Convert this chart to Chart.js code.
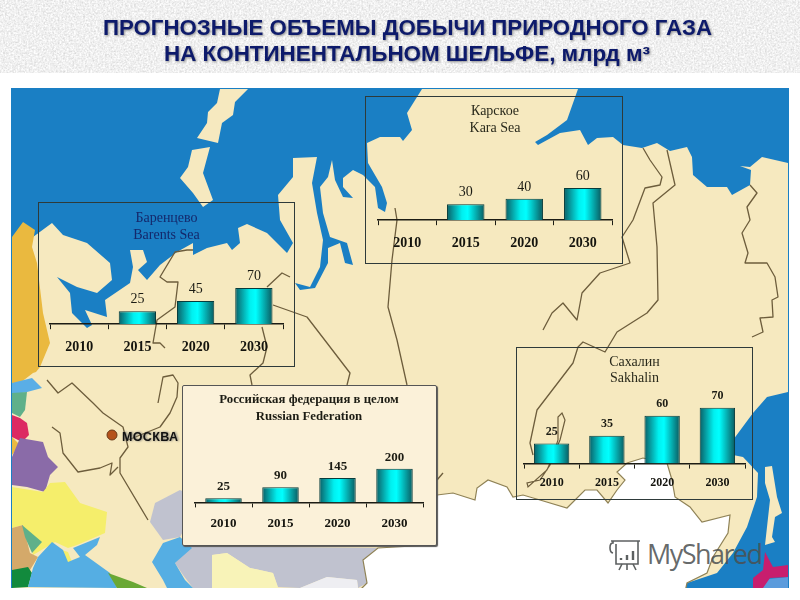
<!DOCTYPE html>
<html lang="ru">
<head>
<meta charset="utf-8">
<title>Прогнозные объемы добычи природного газа</title>
<script src="https://cdn.jsdelivr.net/npm/chart.js@4"></script>
<style>
    html, body { margin: 0; padding: 0; background: #fff; width: 800px; height: 600px; overflow: hidden; }
    #map { position: absolute; left: 0; top: 0; }
    .panel { position: absolute; box-sizing: border-box; }
    .panel canvas { position: absolute; left: 0; top: 0; }
    .outline { border: 1px solid #2e3a3a; }
    .solid { background: #fbf1d9; border: 1px solid #555; border-radius: 2px; box-shadow: 1px 1px 1px #555; }
    .heading { font: bold 21.5px "Liberation Sans", Arial, sans-serif; fill: #0d1a6b; filter: drop-shadow(1px 1px 1px #8a8a8a); }
    .border { fill: none; stroke: #6d5d3c; stroke-width: 1.3; stroke-linejoin: round; }
</style>
</head>
<body>
<svg id="map" width="800" height="600" xmlns="http://www.w3.org/2000/svg">
    <defs>
        <filter id="paper" x="0" y="0" width="100%" height="100%">
            <feTurbulence type="fractalNoise" baseFrequency="0.55" numOctaves="2" seed="4"/>
            <feColorMatrix type="matrix" values="0.5 0 0 0 0.62  0.5 0 0 0 0.62  0.5 0 0 0 0.62  0 0 0 0 1"/>
        </filter>
    </defs>
    <rect x="0" y="0" width="800" height="73" filter="url(#paper)"/>
    <text class="heading" x="103" y="35" textLength="609" lengthAdjust="spacingAndGlyphs">ПРОГНОЗНЫЕ ОБЪЕМЫ ДОБЫЧИ ПРИРОДНОГО ГАЗА</text>
    <text class="heading" x="164" y="60.5" textLength="486" lengthAdjust="spacingAndGlyphs">НА КОНТИНЕНТАЛЬНОМ ШЕЛЬФЕ, млрд м³</text>

    <!-- sea -->
    <rect x="11" y="88" width="778" height="500" fill="#1a7fc4"/>
    <!-- mainland -->
    <polygon fill="#f6e9bf" points="12,237 33,237 52,223 63,235 87,243 110,263 112,280 97,293 77,287 57,277 70,293 72,313 87,328 92,325 85,310 107,317 105,300 130,283 133,267 130,250 143,250 147,262 138,270 147,280 160,265 177,252 193,243 193,255 207,248 227,243 232,250 240,243 238,228 247,224 267,233 287,253 293,243 280,220 278,195 293,177 293,158 317,157 312,183 317,213 323,240 320,267 310,287 295,283 300,290 315,288 328,263 328,248 340,243 345,263 353,265 347,243 330,237 323,213 320,187 328,177 332,160 335,180 343,197 353,198 343,187 343,178 353,170 363,175 375,187 378,208 385,212 387,203 382,187 368,163 367,143 380,137 400,137 403,141 412,130 407,113 422,89 578,89 567,120 547,135 535,142 538,145 560,133 580,130 588,145 597,138 613,137 623,145 642,148 657,143 670,151 687,147 692,157 693,175 707,187 727,187 732,195 750,185 751,170 740,166 750,167 762,157 788,163 788,392 767,397 753,413 733,440 733,455 743,457 758,473 757,497 747,527 733,553 717,573 687,583 685,588 12,588"/>
    <!-- islands -->
    <polygon fill="#f6e9bf" points="220,89 248,89 235,102 233,115 222,123 218,143 197,138 207,123 208,112 217,103"/>
    <polygon fill="#f6e9bf" points="192,150 210,147 203,173 213,200 203,207 193,193 180,178 188,167"/>
    <polygon fill="#f6e9bf" points="765,467 772,466 777,497 782,513 775,517 772,537 775,542 765,545 767,527 770,500 765,483"/>
    <polygon fill="#5b9bdc" points="768,579 788,577 788,588 762,588"/>
    <polygon fill="#c81e6e" points="765,552 773,567 788,565 788,577 770,578 763,588 753,588 753,578 763,570"/>

    <!-- neighbours on the west and south -->
    <polygon fill="#eab93f" points="12,237 23,222 35,230 32,247 37,263 43,313 50,343 40,367 36,372 33,373 20,383 12,383"/>
    <polygon fill="#5aaee6" points="12,383 32,378 42,388 27,392 12,395"/>
    <polygon fill="#5fb08a" points="12,393 27,392 25,410 20,417 12,413"/>
    <polygon fill="#eab93f" points="12,437 20,445 12,455"/>
    <polygon fill="#dc2a62" points="12,415 20,418 27,423 29,435 22,442 12,437"/>
    <polygon fill="#8a6ba8" points="12,457 20,438 43,442 48,457 58,467 50,475 45,492 27,487 12,485"/>
    <polygon fill="#f5ee6b" points="12,487 43,492 50,483 65,482 80,503 107,512 105,533 77,545 68,548 55,542 33,555 30,543 23,525 12,528"/>
    <polygon fill="#d4a96a" points="12,528 23,525 30,553 38,557 30,570 12,570"/>
    <polygon fill="#5fb08a" points="22,525 42,542 32,553 25,537"/>
    <polygon fill="#128a3d" points="12,570 28,567 32,573 28,587 12,588"/>
    <polygon fill="#f5ee6b" points="55,548 68,552 72,562 64,564"/>
    <polygon fill="#55aee3" points="28,587 33,568 38,557 52,542 63,550 68,562 80,557 73,548 100,537 97,545 85,555 110,573 117,588"/>
    <polygon fill="#6aa835" points="108,573 133,582 147,588 117,588"/>
    <polygon fill="#c0c2cf" points="180,490 155,503 150,522 163,540 180,537 200,500"/>
    <polygon fill="#c0c2cf" points="192,546 175,563 183,575 193,588 212,588 212,555 227,553 250,568 273,573 278,587 300,588 327,577 357,580 358,588 367,583 363,560 378,548"/>
    <polygon fill="#55aee3" points="180,537 163,543 152,562 163,580 167,588 193,588 185,580 175,563 192,548"/>
    <polygon fill="#f8f3b8" points="212,555 227,553 250,568 273,573 278,588 212,588"/>
    <polygon fill="#eeeef2" points="300,588 327,577 357,580 358,588"/>
    <!-- china -->
    <polygon fill="#fff" stroke="#8f8256" stroke-width="1.2" points="437,495 453,493 475,500 477,488 488,480 507,487 513,497 523,495 540,500 567,508 585,490 597,490 608,503 617,490 625,480 617,472 627,463 643,458 667,463 672,480 675,497 690,507 702,522 730,515 728,533 713,557 707,573 687,583 685,592 358,592 367,583 363,560 378,548 430,545"/>
    <rect x="0" y="588" width="800" height="12" fill="#fff"/>

    <!-- borders and rivers -->
    <polyline class="border" points="193,250 187,250 175,252 160,277 167,282 178,282 175,307 157,320 153,343 160,343 165,348"/>
    <polyline class="border" points="267,287 282,273 290,277"/>
    <polyline class="border" points="273,305 307,317 327,343 350,373 347,385"/>
    <polyline class="border" points="262,327 267,347 263,363 250,375 252,385"/>
    <polyline class="border" points="395,208 397,220 392,260 388,307 397,340 407,385"/>
    <polyline class="border" points="643,148 650,160 662,177 660,185 645,188 633,220 622,237 630,263 600,273 582,293 577,320 563,303 552,313 543,330"/>
    <polyline class="border" points="667,150 675,185 653,203 657,247 658,300 647,313 617,332 605,352 583,342 578,347 573,363 560,380 537,410 530,443 533,455"/>
    <polyline class="border" points="750,185 757,193 747,207 750,220 742,233 748,253 745,263 767,263 775,277 778,297 772,300 773,317 760,318 763,332 752,337"/>
    <polyline class="border" points="47,380 58,393 72,383 93,403 103,413 123,427 128,447 120,458 120,473 148,520"/>
    <polyline class="border" points="52,427 60,433 63,453 78,472 100,468 112,463 110,475 118,467"/>
    <polyline class="border" points="158,403 163,377 173,375 178,383 177,397 170,413 160,427 128,440"/>
    <polyline class="border" points="437,480 443,473"/>
    <polygon fill="#f6e9bf" stroke="#6d5d3c" stroke-width="1.2" points="562,413 565,420 560,440 547,470 528,487 527,483 540,480 550,465 558,440 558,417"/>

    <!-- moscow -->
    <circle cx="112" cy="435" r="5" fill="#b5521b" stroke="#6b3a18"/>
    <text x="122" y="441" font-family="Liberation Sans" font-weight="bold" font-size="12.5" fill="#111" textLength="56" style="filter: drop-shadow(1px 0 1px #777)">МОСКВА</text>

    <!-- watermark -->
    <g fill="none" stroke="#4b4f50" stroke-width="1.6" opacity="0.9">
        <path d="M611 541 h29 M613 541 v2 c-4 0 -4 9 0 10 M616 544 v20 h22 v-23"/>
        <path d="M622 564 l-3 6 M627 564 v6 M633 564 l3 6"/>
        <path d="M621 560 v-2 M627 560 v-5 M633 560 v-9" stroke-width="2.4"/>
    </g>
    <text x="647" y="564" font-family="Open Sans" font-size="27" fill="#4b4f50" fill-opacity="0.85" textLength="116">MyShared</text>
</svg>

<div class="panel outline" style="left:38px;top:202px;width:257px;height:165px"><canvas id="barentsChart"></canvas></div>
<div class="panel outline" style="left:365px;top:96px;width:258px;height:168px"><canvas id="karaChart"></canvas></div>
<div class="panel solid" style="left:182px;top:385px;width:255px;height:161px"><canvas id="russiaChart"></canvas></div>
<div class="panel outline" style="left:516px;top:347px;width:237px;height:153px"><canvas id="sakhalinChart"></canvas></div>

<script>
const years = ['2010', '2015', '2020', '2030'];

const barentsValues = [null, 25, 45, 70];
const karaValues = [null, 30, 40, 60];
const russiaValues = [25, 90, 145, 200];
const sakhalinValues = [25, 35, 60, 70];

const barentsTitle = ['Баренцево', 'Barents Sea'];
const karaTitle = ['Карское', 'Kara Sea'];
const russiaTitle = ['Российская федерация в целом', 'Russian Federation'];
const sakhalinTitle = ['Сахалин', 'Sakhalin'];

const barFraction = 0.64;
const serif = '"Liberation Serif", "Times New Roman", serif';

// value over each bar, the 2010 gaps just get skipped
const valueLabels = {
    id: 'valueLabels',
    afterDatasetsDraw(chart) {
        const c = chart.ctx;
        const values = chart.data.datasets[0].data;
        c.save();
        c.font = `${chart.options.valueWeight} ${chart.options.valueFontSize}px ${serif}`;
        c.fillStyle = '#1c1c14';
        c.textAlign = 'center';
        c.textBaseline = 'middle';
        chart.getDatasetMeta(0).data.forEach((bar, i) => {
            if (values[i] !== null) {
                c.fillText(String(values[i]), bar.x, bar.y - 11.5);
            }
        });
        c.restore();
    }
};

// dark edges, cyan in the middle of every bar
function barFill(context) {
    const chart = context.chart;
    const xScale = chart.scales.x;
    if (!xScale || !chart.chartArea) {
        return '#00c8c8';
    }
    const center = xScale.getPixelForValue(context.dataIndex);
    const half = xScale.width / years.length * barFraction / 2;
    const gradient = chart.ctx.createLinearGradient(center - half, 0, center + half, 0);
    gradient.addColorStop(0, '#0a5f66');
    gradient.addColorStop(0.4, '#00f0f0');
    gradient.addColorStop(0.55, '#00ffff');
    gradient.addColorStop(1, '#0a5a5f');
    return gradient;
}

function createChart(id, values, titleLines, settings) {
    const canvas = document.getElementById(id);
    canvas.width = settings.width;
    canvas.height = settings.height;
    return new Chart(canvas.getContext('2d'), {
        type: 'bar',
        data: {
            labels: years,
            datasets: [{
                data: values,
                backgroundColor: barFill,
                borderColor: '#083c3c',
                borderWidth: 1,
                barPercentage: barFraction,
                categoryPercentage: 1
            }]
        },
        options: {
            responsive: false,
            animation: false,
            devicePixelRatio: 1,
            valueFontSize: settings.valueFont,
            valueWeight: settings.valueWeight,
            layout: {
                padding: { left: settings.left, right: settings.right, top: 0, bottom: settings.bottom }
            },
            plugins: {
                legend: { display: false },
                tooltip: { enabled: false },
                title: {
                    display: true,
                    text: titleLines,
                    color: settings.titleColor,
                    font: { family: serif, size: settings.titleFont, weight: settings.titleWeight, lineHeight: settings.titleLine },
                    padding: { top: settings.titleTop, bottom: settings.titleBottom }
                }
            },
            scales: {
                y: { display: false, min: 0, max: settings.yMax },
                x: {
                    border: { display: true, color: '#1c1c14', width: 1.5 },
                    grid: { drawOnChartArea: false, drawTicks: true, tickLength: 5, color: '#1c1c14', offset: true },
                    ticks: {
                        color: '#14140e',
                        padding: settings.tickGap,
                        maxRotation: 0,
                        autoSkip: false,
                        font: { family: serif, size: settings.tickFont, weight: 'bold' }
                    }
                }
            }
        },
        plugins: [valueLabels]
    });
}

createChart('barentsChart', barentsValues, barentsTitle, {
    width: 255, height: 163, left: 11, right: 11, bottom: 0, yMax: 141,
    titleColor: '#14286b', titleFont: 14, titleWeight: 'normal', titleLine: 1.22, titleTop: 7, titleBottom: 7,
    tickFont: 14, tickGap: 10, valueFont: 14, valueWeight: 'normal'
});
createChart('karaChart', karaValues, karaTitle, {
    width: 256, height: 166, left: 12, right: 10, bottom: 1, yMax: 142,
    titleColor: '#2a2a1c', titleFont: 14, titleWeight: 'normal', titleLine: 1.22, titleTop: 6, titleBottom: 7,
    tickFont: 14, tickGap: 10, valueFont: 14, valueWeight: 'normal'
});
createChart('russiaChart', russiaValues, russiaTitle, {
    width: 253, height: 159, left: 12, right: 13, bottom: 6, yMax: 417,
    titleColor: '#1c1c14', titleFont: 12.8, titleWeight: 'bold', titleLine: 1.33, titleTop: 5, titleBottom: 7,
    tickFont: 13, tickGap: 8, valueFont: 13, valueWeight: 'bold'
});
createChart('sakhalinChart', sakhalinValues, sakhalinTitle, {
    width: 235, height: 151, left: 7, right: 7, bottom: 2, yMax: 89,
    titleColor: '#2a2a1c', titleFont: 14, titleWeight: 'normal', titleLine: 1.16, titleTop: 6, titleBottom: 6,
    tickFont: 12, tickGap: 7, valueFont: 12, valueWeight: 'bold'
});
</script>
</body>
</html>
